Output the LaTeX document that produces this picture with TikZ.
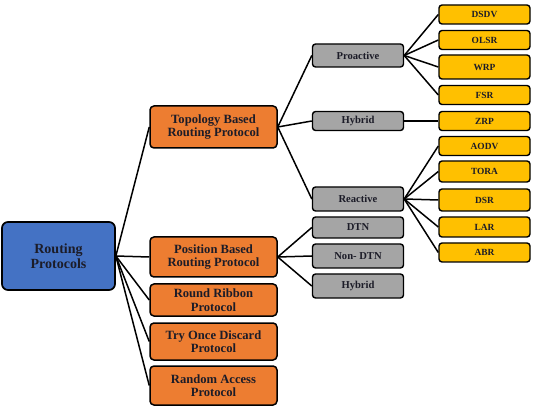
\documentclass[tikz,border=0pt]{standalone}
\usepackage{fontspec}
\setmainfont{Liberation Serif}
\usepackage{tikz}
\usetikzlibrary{positioning}
\definecolor{rootcol}{RGB}{68,114,196}
\definecolor{orangecol}{RGB}{237,125,49}
\definecolor{graycol}{RGB}{165,165,165}
\definecolor{yellowcol}{RGB}{255,192,0}
\definecolor{inkcol}{RGB}{28,28,40}
\tikzset{
  rootbox/.style={rectangle, draw=black, line width=1.7pt, rounded corners=6pt,
               fill=rootcol, minimum width=113pt, minimum height=68pt, inner sep=0pt,
               align=center, text=inkcol, font=\fontsize{14}{15.5}\selectfont\bfseries},
  obox/.style={rectangle, draw=black, line width=1.5pt, rounded corners=4pt,
               fill=orangecol, minimum width=127pt, minimum height=38pt, inner sep=0pt,
               align=center, text=inkcol, font=\fontsize{12.6}{13.5}\selectfont\bfseries},
  gbox/.style={rectangle, draw=black, line width=1.4pt, rounded corners=3pt,
               fill=graycol, minimum width=91pt, minimum height=23pt, inner sep=0pt,
               align=center, text=inkcol, font=\fontsize{10.6}{12}\selectfont\bfseries},
  ybox/.style={rectangle, draw=black, line width=1.4pt, rounded corners=3pt,
               fill=yellowcol, minimum width=91pt, minimum height=19pt, inner sep=0pt,
               align=center, text=inkcol, font=\fontsize{9.4}{10}\selectfont\bfseries},
  link/.style={line width=1.5pt, color=black},
}
\begin{document}
\begin{tikzpicture}[x=1pt, y=-1pt]
    \useasboundingbox (0,0) rectangle (533,406);
    % root
    \node[rootbox] (root) at (58.5,256) {Routing\\Protocols};
    % protocol families
    \node[obox, minimum height=42pt] (topo) at (213.5,127) {Topology Based\\Routing Protocol};
    \node[obox, minimum height=40pt] (pos) at (213.5,257) {Position Based\\Routing Protocol};
    \node[obox, minimum height=32pt] (rr) at (213.5,300) {Round Ribbon\\Protocol};
    \node[obox, minimum height=37pt] (tod) at (213.5,341.5) {Try Once Discard\\Protocol};
    \node[obox, minimum height=39pt] (ra) at (213.5,385.5) {Random Access\\Protocol};
    % categories
    \node[gbox] (pro) at (358,55.5) {Proactive};
    \node[gbox, minimum height=19pt] (hyb) at (358,121) {Hybrid};
    \node[gbox, minimum height=24pt] (rea) at (358,199) {Reactive};
    \node[gbox, minimum height=21pt] (dtn) at (358,227.5) {DTN};
    \node[gbox, minimum height=24pt] (ndtn) at (358,256) {Non- DTN};
    \node[gbox, minimum height=24pt] (hybpos) at (358,286) {Hybrid};
    % protocols
    \node[ybox] (dsdv) at (484.5,14.5) {DSDV};
    \node[ybox] (olsr) at (484.5,40) {OLSR};
    \node[ybox, minimum height=24pt] (wrp) at (484.5,67) {WRP};
    \node[ybox] (fsr) at (484.5,95) {FSR};
    \node[ybox] (zrp) at (484.5,121) {ZRP};
    \node[ybox] (aodv) at (484.5,146) {AODV};
    \node[ybox, minimum height=21pt] (tora) at (484.5,171.5) {TORA};
    \node[ybox, minimum height=22pt] (dsr) at (484.5,200) {DSR};
    \node[ybox, minimum height=20pt] (lar) at (484.5,227) {LAR};
    \node[ybox] (abr) at (484.5,252.5) {ABR};
    % connectors
    \foreach \c in {topo,pos,rr,tod,ra} \draw[link] (root.east) -- (\c.west);
    \foreach \c in {pro,hyb,rea} \draw[link] (topo.east) -- (\c.west);
    \foreach \c in {dtn,ndtn,hybpos} \draw[link] (pos.east) -- (\c.west);
    \foreach \c in {dsdv,olsr,wrp,fsr} \draw[link] (pro.east) -- (\c.west);
    \draw[link] (hyb) -- (zrp);
    \foreach \c in {aodv,tora,dsr,lar,abr} \draw[link] (rea.east) -- (\c.west);
  \end{tikzpicture}
\end{document}
